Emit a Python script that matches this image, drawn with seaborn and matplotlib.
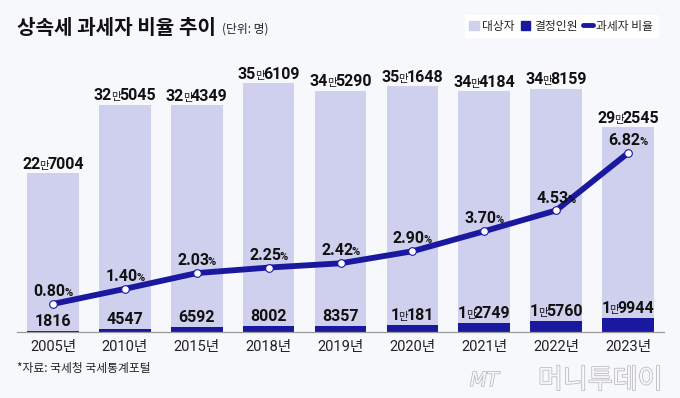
import matplotlib
matplotlib.use("Agg")
import matplotlib.pyplot as plt
import matplotlib.font_manager as fm
import matplotlib.patheffects as pe
from matplotlib.lines import Line2D
from matplotlib.patches import Patch
from matplotlib.offsetbox import TextArea, HPacker, AnnotationBbox
import numpy as np
import seaborn as sns

# ── data ─────────────────────────────────────────────────────────────────────
years = ["2005년", "2010년", "2015년", "2018년", "2019년",
         "2020년", "2021년", "2022년", "2023년"]
targets = [227004, 325045, 324349, 356109, 345290, 351648, 344184, 348159, 292545]
decided = [1816, 4547, 6592, 8002, 8357, 10181, 12749, 15760, 19944]
tax_rate = [0.80, 1.40, 2.03, 2.25, 2.42, 2.90, 3.70, 4.53, 6.82]

# ── style ────────────────────────────────────────────────────────────────────
BG = "#f7f8fc"
LAVENDER = "#cfd0ee"
NAVY = "#1a189f"
KR = "Noto Sans CJK KR"

sns.set_style("white")
available = {f.name for f in fm.fontManager.ttflist}
NUM = "Liberation Sans Narrow" if "Liberation Sans Narrow" in available else "Roboto"
plt.rcParams["font.family"] = [NUM, KR, "DejaVu Sans"]


def piece(txt, size, weight="bold", family=None):
    fam = family or [NUM, KR]
    return TextArea(txt, textprops=dict(fontsize=size, fontweight=weight,
                                        family=fam, color="#111111"))


def man_label(v):
    """22만7004 style label as list of text pieces."""
    if v >= 10000:
        return [piece(str(v // 10000), 11.5), piece("만", 7.5, "regular", [KR]),
                piece(str(v % 10000), 11.5)]
    return [piece(str(v), 11.5)]


def put(ax, parts, x, y, dy=1):
    box = HPacker(children=parts, align="baseline", pad=0, sep=-1)
    ab = AnnotationBbox(box, (x, y), xybox=(0, dy), xycoords="data",
                        boxcoords="offset points", box_alignment=(0.5, 0),
                        frameon=False, annotation_clip=False, pad=0)
    ax.add_artist(ab)


fig = plt.figure(figsize=(6.8, 3.98), dpi=100, facecolor=BG)
ax = fig.add_axes([17 / 680, 66 / 398, 647 / 680, 272 / 398])
ax.set_facecolor("none")

sns.barplot(x=years, y=targets, color=LAVENDER, saturation=1, width=0.72,
            linewidth=0, ax=ax)
sns.barplot(x=years, y=decided, color=NAVY, saturation=1, width=0.72,
            linewidth=0, ax=ax)
ax.set_xlim(-0.5, 8.5)
ax.set_ylim(0, 389000)

for i, (t, d) in enumerate(zip(targets, decided)):
    put(ax, man_label(t), i, t, dy=1)
    put(ax, man_label(d), i, d, dy=1.5)

# ── ratio line ───────────────────────────────────────────────────────────────
ax2 = ax.twinx()
sns.lineplot(x=np.arange(len(years)), y=tax_rate, color=NAVY, lw=4.2,
             marker="o", markersize=5.5, markerfacecolor="white",
             markeredgecolor=NAVY, markeredgewidth=0.8, ax=ax2)
ax2.set_ylim(-0.32, 10.53)
ax2.set_xlim(-0.5, 8.5)
ax2.axis("off")
for i, r in enumerate(tax_rate):
    put(ax2, [piece(f"{r:.2f}", 11.5), piece("%", 8, "bold")], i, r, dy=3.5)

# ── axes cosmetics ───────────────────────────────────────────────────────────
for s in ["top", "left", "right"]:
    ax.spines[s].set_visible(False)
ax.spines["bottom"].set_color("#9a9a9a")
ax.spines["bottom"].set_linewidth(0.9)
ax.set_yticks([])
ax.set_xlabel("")
ax.set_ylabel("")
ax.set_xticks(range(len(years)))
ax.set_xticklabels(years, fontsize=10.5, color="#222222")
ax.tick_params(axis="x", which="major", length=0, pad=6)
ax.set_xticks(np.arange(-0.5, len(years), 1), minor=True)
ax.tick_params(axis="x", which="minor", length=5, direction="in",
               color="#9a9a9a", width=0.9)

# ── title / legend / notes ───────────────────────────────────────────────────
fig.text(17 / 680, 1 - 34 / 398, "상속세 과세자 비율 추이", fontsize=14.5,
         fontweight="bold", family=[KR], color="#111111")
fig.text(222 / 680, 1 - 33 / 398, "(단위: 명)", fontsize=8.5,
         family=[KR], color="#222222")

handles = [Patch(color=LAVENDER), Patch(color=NAVY),
           Line2D([], [], color=NAVY, lw=3.5)]
leg = fig.legend(handles, ["대상자", "결정인원", "과세자 비율"], ncol=3,
                 loc="upper right", bbox_to_anchor=(664 / 680, 1 - 9 / 398),
                 prop=dict(family=[KR], size=8.5), frameon=True,
                 fancybox=False, handlelength=0.8, handleheight=0.8,
                 handletextpad=0.3, columnspacing=0.5, borderpad=0.4)
leg.get_frame().set_facecolor("white")
leg.get_frame().set_edgecolor("white")
leg.get_frame().set_alpha(1)

fig.text(17 / 680, 1 - 372 / 398, "*자료: 국세청 국세통계포털", fontsize=8.5,
         family=[KR], color="#222222")

wm = dict(color=BG, path_effects=[pe.withStroke(linewidth=1.1, foreground="#b8b8b8")])
fig.text(470 / 680, 1 - 386 / 398, "MT", fontsize=14, style="italic",
         family=["DejaVu Sans"], **wm)
fig.text(538 / 680, 1 - 388 / 398, "머니투데이", fontsize=19.5,
         family=[KR], **wm)

fig.savefig("out.png", dpi=100, facecolor=BG)
